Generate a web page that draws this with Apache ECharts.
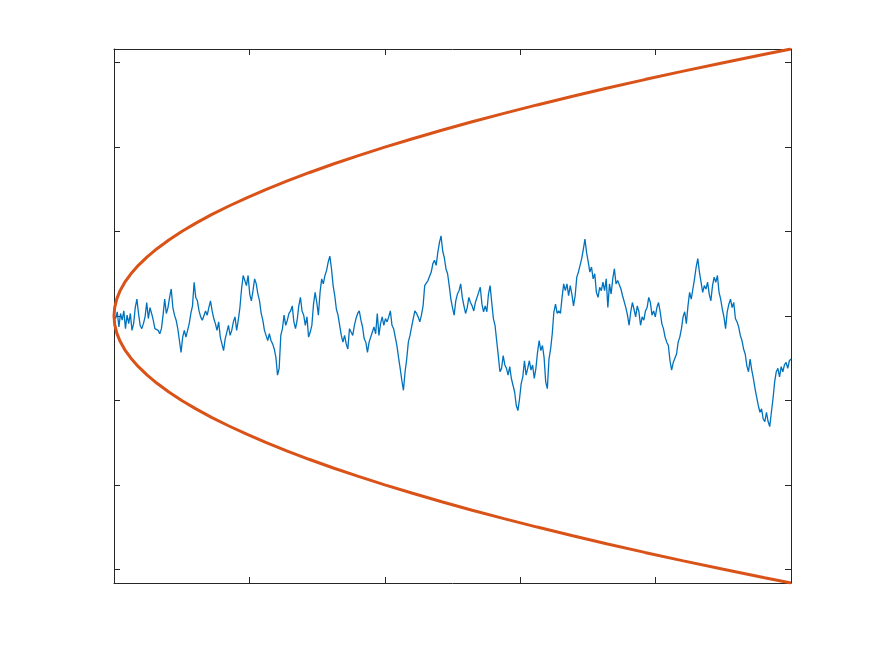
<!DOCTYPE html>
<html>
<head>
<meta charset="utf-8">
<script src="https://cdn.jsdelivr.net/npm/echarts@6/dist/echarts.min.js"></script>
<style>
  html, body { margin: 0; padding: 0; background: #fff; }
  #chart { width: 875px; height: 656px; }
</style>
</head>
<body>
<div id="chart"></div>
<script>
// random walk left to right (equal time steps over 0..10)
var walkA = [0, -0.03, 0.05, -0.13, 0.03, -0.05, 0.06, -0.15, 0.01, -0.09, 0.03, -0.17, -0.09, 0.10, 0.20, 0.03, -0.11, -0.15, -0.09, -0.01,
  0.16, -0.03, 0.10, 0.03, -0.05, -0.15, -0.13, -0.17, -0.21, -0.15, 0.01, 0.20, 0.03, 0.10, 0.22, 0.32, 0.10, 0.01, -0.05, -0.15,
  -0.29, -0.43, -0.25, -0.17, -0.25, -0.17, -0.09, 0.03, 0.12, 0.40, 0.22, 0.18, 0.06, -0.01, -0.05, -0.03, 0.06, 0.01, 0.10, 0.18,
  0.06, -0.03, -0.09, -0.17, -0.07, -0.25, -0.33, -0.41, -0.27, -0.19, -0.11, -0.23, -0.17, -0.07, -0.01, -0.17, -0.05, 0.10, 0.32, 0.48,
  0.42, 0.36, 0.48, 0.26, 0.18, 0.30, 0.44, 0.38, 0.26, 0.18, 0.03, -0.05, -0.17, -0.23, -0.29, -0.21, -0.29, -0.33, -0.39, -0.49, -0.70];
var walkB = [-0.62, -0.23, -0.15, 0.01, -0.11, -0.05, 0.03, 0.06, 0.12, -0.07, -0.15, -0.05, 0.12, 0.22, 0.06, 0.01, -0.11, -0.01, -0.25, -0.19,
  -0.11, 0.14, 0.28, 0.16, 0.01, 0.28, 0.44, 0.38, 0.48, 0.54, 0.64, 0.71, 0.56, 0.36, 0.24, 0.08, 0.01, -0.11, -0.23, -0.31,
  -0.23, -0.33, -0.39, -0.15, -0.19, -0.23, -0.11, -0.03, 0.03, 0.06, -0.05, -0.13, -0.27, -0.31, -0.43, -0.31, -0.33, -0.19, -0.13, -0.21,
  0.03, -0.23, -0.09, -0.01, -0.11, -0.03, -0.07, -0.01, 0.06, -0.11, -0.15, -0.25, -0.35, -0.49, -0.62, -0.76, -0.88, -0.66, -0.51, -0.31,
  -0.23, -0.13, -0.03, 0.06, 0.03, -0.01, -0.07, 0.01, 0.12, 0.36, 0.34, 0.42, 0.40, 0.52, 0.62, 0.66, 0.60, 0.75, 0.87, 0.95,
  0.77, 0.69, 0.56];
var walkC = [0.50, 0.36, 0.20, 0.10, 0.01, 0.18, 0.26, 0.30, 0.38, 0.22, 0.12, 0.03, 0.10, 0.22, 0.16, 0.12, 0.06, 0.16, 0.18, 0.28,
  0.34, 0.14, 0.05, 0.12, 0.05, 0.26, 0.36, 0.16, -0.03, -0.11, -0.29, -0.47, -0.66, -0.62, -0.47, -0.58, -0.62, -0.70, -0.60, -0.74,
  -0.82, -0.90, -1.06, -1.12, -0.98, -0.80, -0.72, -0.53, -0.70, -0.62, -0.53, -0.64, -0.58, -0.74, -0.62, -0.43, -0.29, -0.41, -0.35, -0.49,
  -0.78, -0.86, -0.51, -0.39, -0.21, 0.05, 0.14, 0.03, 0.06, 0.03, 0.22, 0.38, 0.30, 0.38, 0.24, 0.36, 0.26, 0.12, 0.24, 0.46,
  0.52, 0.60, 0.68, 0.79, 0.91, 0.75, 0.64, 0.52, 0.58, 0.44, 0.50, 0.28, 0.22, 0.34, 0.30, 0.40, 0.30, 0.44, 0.10, 0.38,
  0.26, 0.44, 0.56, 0.38, 0.42];
var walkD = [0.44, 0.32, 0.24, 0.26, 0.10, 0.01, -0.11, 0.05, 0.16, 0.08, -0.01, 0.12, 0.05, -0.11, -0.01, -0.05, 0.06, 0.10, 0.22, 0.16,
  0.01, 0.06, -0.01, 0.10, 0.16, 0.05, -0.09, -0.15, -0.25, -0.31, -0.35, -0.53, -0.64, -0.55, -0.56, -0.45, -0.31, -0.25, -0.15, -0.01,
  0.05, -0.09, 0.12, 0.28, 0.20, 0.32, 0.44, 0.58, 0.68, 0.52, 0.40, 0.28, 0.36, 0.32, 0.40, 0.26, 0.18, 0.36, 0.46, 0.40,
  0.48, 0.28, 0.20, 0.08, -0.01, -0.15, 0.05, 0.14, 0.20, 0.10, 0.16, -0.03, -0.07, -0.13, -0.23, -0.29, -0.39, -0.45, -0.59, -0.66,
  -0.51, -0.64, -0.74, -0.86, -0.96, -1.06, -1.14, -1.10, -1.22, -1.25, -1.14, -1.25, -1.31, -1.14, -0.98, -0.78, -0.66, -0.62, -0.72, -0.60,
  -0.66, -0.58, -0.55, -0.62, -0.53, -0.51];

// envelope (upper half), time and value pairs
var envT = [0, 0.01, 0.04, 0.09, 0.16, 0.25, 0.36, 0.49, 0.64, 0.81, 1, 1.21, 1.44, 1.69, 1.96, 2.25, 2.56,
  2.89, 3.24, 3.61, 4, 4.41, 4.84, 5.29, 5.76, 6.25, 6.76, 7.29, 7.84, 8.41, 9, 9.61, 10];
var envV = [0, 0.1, 0.2, 0.3, 0.4, 0.5, 0.6, 0.7, 0.8, 0.9, 1, 1.1, 1.2, 1.3, 1.4, 1.5, 1.6,
  1.7, 1.8, 1.9, 2, 2.1, 2.2, 2.3, 2.4, 2.5, 2.6, 2.7, 2.8, 2.9, 3, 3.1, 3.1623];

var yTicks = [-3, -2, -1, 0, 1, 2, 3];
var tMax = 10;
var yMax = 3.1623;

var walk = walkA.concat(walkB, walkC, walkD);
var dt = tMax / (walk.length - 1);
var walkData = walk.map(function (v, i) { return [i * dt, v]; });

var envData = [];
for (var i = envT.length - 1; i >= 0; i--) envData.push([envT[i], -envV[i]]);
for (var j = 1; j < envT.length; j++) envData.push([envT[j], envV[j]]);

var axisColor = '#262626';
function xAx(pos) {
  return {
    type: 'value', position: pos, min: 0, max: tMax, interval: 2,
    axisLine: { show: true, onZero: false, lineStyle: { color: axisColor, width: 1 } },
    axisTick: { show: true, inside: true, length: 6, lineStyle: { color: axisColor, width: 1 } },
    axisLabel: { show: false },
    splitLine: { show: false }
  };
}
function yAx(pos) {
  return {
    type: 'value', position: pos, min: -yMax, max: yMax,
    axisLine: { show: true, onZero: false, lineStyle: { color: axisColor, width: 1 } },
    axisTick: { show: true, inside: true, length: 6, customValues: yTicks, lineStyle: { color: axisColor, width: 1 } },
    axisLabel: { show: false, customValues: yTicks },
    splitLine: { show: false }
  };
}

var chart = echarts.init(document.getElementById('chart'));
chart.setOption({
  backgroundColor: '#ffffff',
  animation: false,
  grid: { left: 114, right: 84, top: 49, bottom: 73, containLabel: false },
  xAxis: [xAx('bottom'), xAx('top')],
  yAxis: [yAx('left'), yAx('right')],
  series: [
    {
      type: 'line', data: walkData, showSymbol: false, symbol: 'none',
      lineStyle: { color: '#0072BD', width: 1.3 }, z: 2
    },
    {
      type: 'line', data: envData, showSymbol: false, symbol: 'none',
      lineStyle: { color: '#D95319', width: 3 }, z: 3
    }
  ]
});
</script>
</body>
</html>
